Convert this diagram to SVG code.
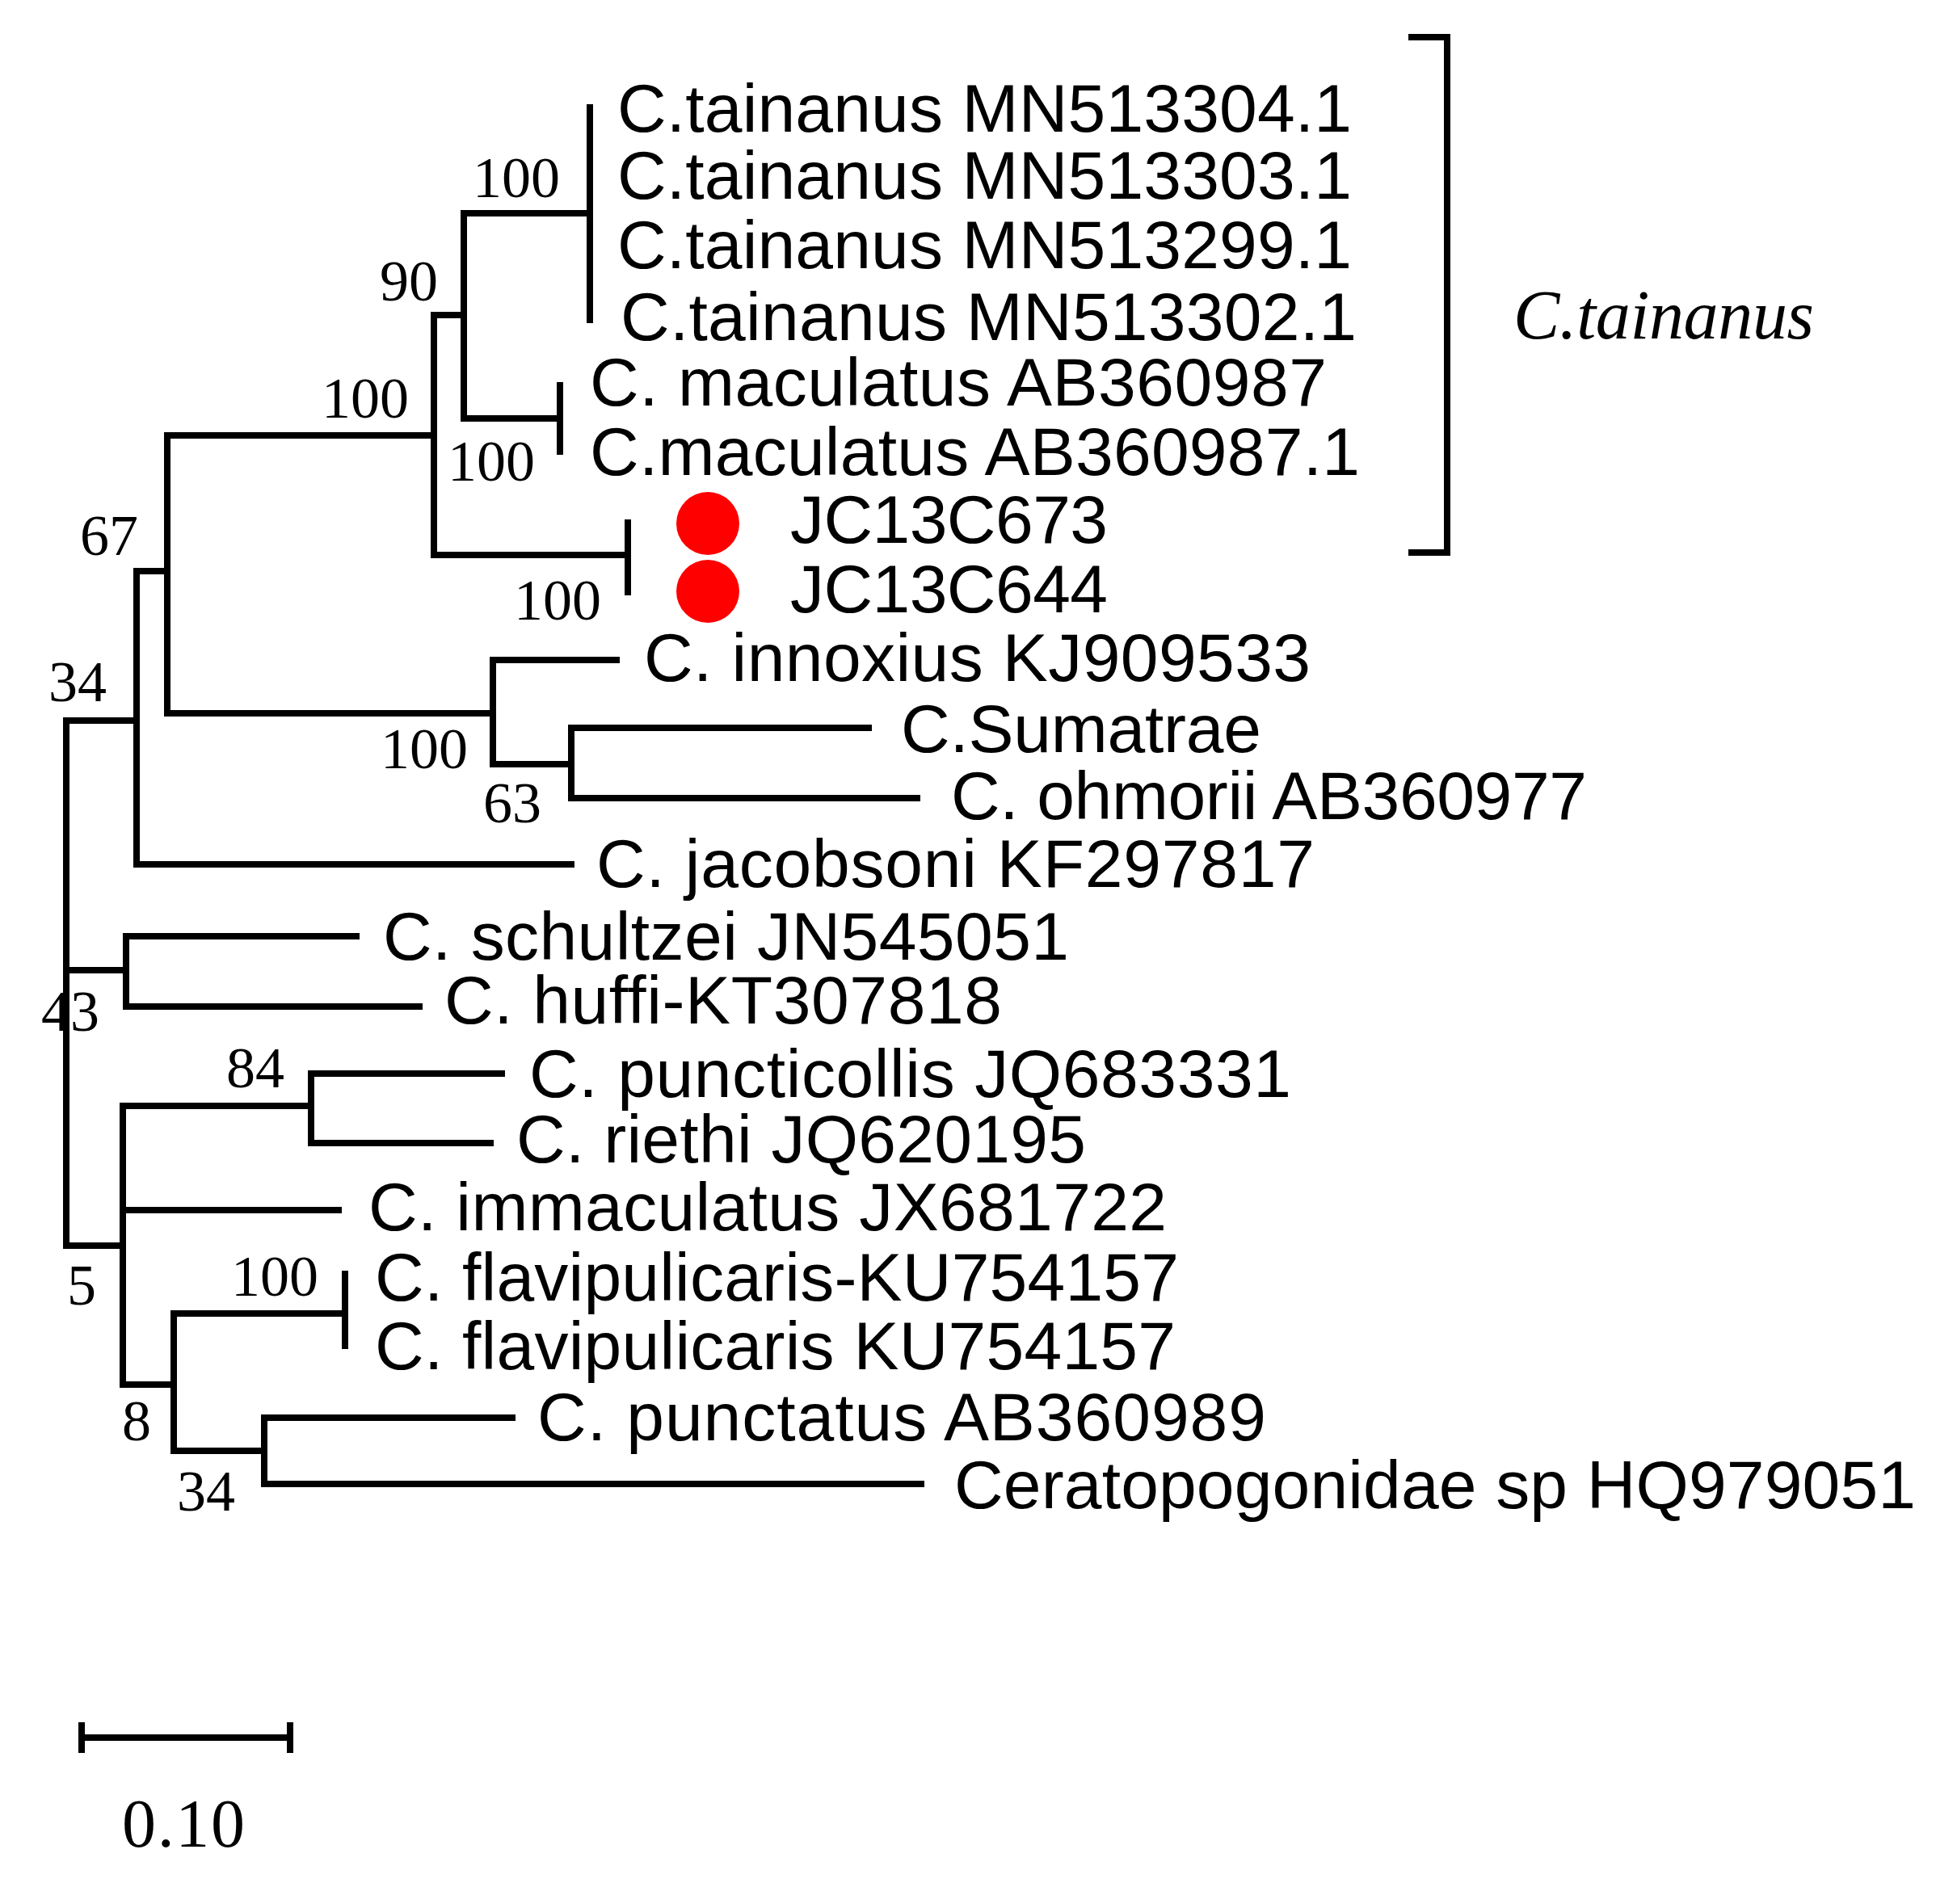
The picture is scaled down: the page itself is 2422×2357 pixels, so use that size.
<svg xmlns="http://www.w3.org/2000/svg" width="2422" height="2357" viewBox="0 0 2422 2357">
<style>
.e{fill:none;stroke:#000;stroke-width:8;stroke-linecap:square}
.t{font-family:"Liberation Sans",Arial,sans-serif;font-size:84px;fill:#000}
.b{font-family:"Liberation Serif","Times New Roman",serif;font-size:72px;fill:#000}
</style>
<rect width="2422" height="2357" fill="#fff"/>
<g id="connectors">
<path class="e" d="M730,133V396M574,264H730M574,264V518M574,518H693M693,477V559M537,390H574M537,390V687M537,687H777M777,647V733"/>
<path class="e" d="M207,539H537M207,539V883M207,883H610M610,817V946M610,817H763M610,946H707M707,901V988M707,901H1075M707,988H1135"/>
<path class="e" d="M169,707H207M169,707V1070M169,1070H707M82,892H169M82,892V1542"/>
<path class="e" d="M82,1201H156M156,1159V1246M156,1159H441M156,1246H519"/>
<path class="e" d="M82,1542H152M152,1369V1714M152,1369H385M385,1329V1415M385,1329H621M385,1415H607M152,1498H419"/>
<path class="e" d="M152,1714H215M215,1626V1796M215,1626H427M427,1577V1666M215,1796H327M327,1755V1837M327,1755H634M327,1837H1140"/>
<path class="e" d="M1747,46H1791V684H1747"/>
</g>
<g id="leaves">
<text class="t" x="764" y="163" textLength="909">C.tainanus MN513304.1</text>
<text class="t" x="764" y="246" textLength="909">C.tainanus MN513303.1</text>
<text class="t" x="764" y="332" textLength="909">C.tainanus MN513299.1</text>
<text class="t" x="768" y="421" textLength="911">C.tainanus MN513302.1</text>
<text class="t" x="730" y="502" textLength="912">C. maculatus AB360987</text>
<text class="t" x="730" y="588" textLength="953">C.maculatus AB360987.1</text>
<circle cx="876" cy="648" r="39" fill="#f00"/>
<circle cx="876" cy="732" r="39" fill="#f00"/>
<text class="t" x="978" y="672" textLength="393">JC13C673</text>
<text class="t" x="978" y="758" textLength="393">JC13C644</text>
<text class="t" x="797" y="843" textLength="825">C. innoxius KJ909533</text>
<text class="t" x="1115" y="931" textLength="446">C.Sumatrae</text>
<text class="t" x="1177" y="1014" textLength="787">C. ohmorii AB360977</text>
<text class="t" x="738" y="1098" textLength="889">C. jacobsoni KF297817</text>
<text class="t" x="474" y="1188" textLength="849">C. schultzei JN545051</text>
<text class="t" x="550" y="1267" textLength="690">C. huffi-KT307818</text>
<text class="t" x="655" y="1358" textLength="943">C. puncticollis JQ683331</text>
<text class="t" x="639" y="1439" textLength="705">C. riethi JQ620195</text>
<text class="t" x="456" y="1523" textLength="988">C. immaculatus JX681722</text>
<text class="t" x="464" y="1610" textLength="995">C. flavipulicaris-KU754157</text>
<text class="t" x="464" y="1695" textLength="991">C. flavipulicaris KU754157</text>
<text class="t" x="665" y="1783" textLength="902">C. punctatus AB360989</text>
<text class="t" x="1181" y="1867" textLength="1190">Ceratopogonidae sp HQ979051</text>
</g>
<g id="bootstrap">
<text class="b" x="585" y="244">100</text>
<text class="b" x="470" y="372">90</text>
<text class="b" x="398" y="517">100</text>
<text class="b" x="554" y="595">100</text>
<text class="b" x="99" y="687">67</text>
<text class="b" x="636" y="767">100</text>
<text class="b" x="60" y="868">34</text>
<text class="b" x="471" y="951">100</text>
<text class="b" x="598" y="1018">63</text>
<text class="b" x="51" y="1276">43</text>
<text class="b" x="280" y="1346">84</text>
<text class="b" x="83" y="1615">5</text>
<text class="b" x="286" y="1604">100</text>
<text class="b" x="151" y="1783">8</text>
<text class="b" x="219" y="1870">34</text>
</g>
<g id="clade-label">
<text x="1873" y="419" font-family="'Liberation Serif','Times New Roman',serif" font-style="italic" font-size="86" textLength="372">C.tainanus</text>
</g>
<g id="scale">
<path class="e" d="M101,2151H359M101,2136V2166M359,2136V2166"/>
<text x="151" y="2286" font-family="'Liberation Serif','Times New Roman',serif" font-size="84" textLength="152">0.10</text>
</g>
</svg>
